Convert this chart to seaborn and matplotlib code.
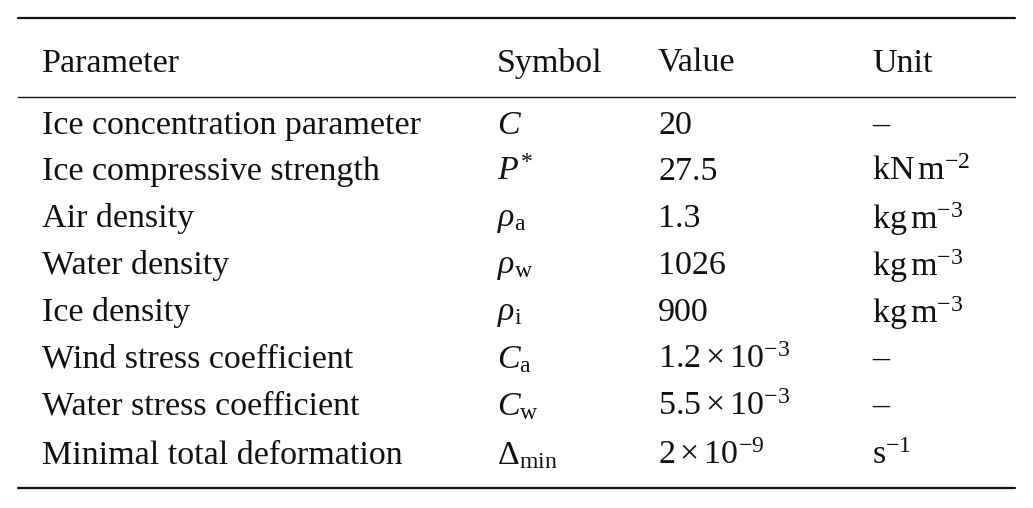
import matplotlib
matplotlib.use("Agg")
import matplotlib.pyplot as plt
import seaborn as sns

sns.set_theme(style="white")
plt.rcParams['font.family'] = ['Liberation Serif', 'DejaVu Serif']
plt.rcParams['mathtext.fontset'] = 'custom'
plt.rcParams['mathtext.rm'] = 'Liberation Serif'
plt.rcParams['mathtext.it'] = 'Liberation Serif:italic'
plt.rcParams['mathtext.bf'] = 'Liberation Serif:bold'
plt.rcParams['mathtext.fallback'] = 'stix'

headers = ["Parameter", "Symbol", "Value", "Unit"]
parameters = ["Ice concentration parameter", "Ice compressive strength", "Air density",
              "Water density", "Ice density", "Wind stress coefficient",
              "Water stress coefficient", "Minimal total deformation"]
symbols = [r"$C$", r"$P^{*}$", r"$\rho_{\mathrm{a}}$", r"$\rho_{\mathrm{w}}$", r"$\rho_{\mathrm{i}}$",
           r"$C_{\mathrm{a}}$", r"$C_{\mathrm{w}}$", r"$\Delta_{\mathrm{min}}$"]
values = ["20", "27.5", "1.3", "1026", "900", r"$1.2\times10^{-3}$", r"$5.5\times10^{-3}$", r"$2\times10^{-9}$"]
units = ["–", r"$\mathrm{kN\,m^{-2}}$", r"$\mathrm{kg\,m^{-3}}$", r"$\mathrm{kg\,m^{-3}}$",
         r"$\mathrm{kg\,m^{-3}}$", "–", "–", r"$\mathrm{s^{-1}}$"]

W, H = 1033, 508
fig = plt.figure(figsize=(W/100, H/100), dpi=100)
ax = fig.add_axes([0, 0, 1, 1])
ax.set_xlim(0, W); ax.set_ylim(H, 0); ax.axis('off')

colx = [42, 497, 658, 872]
fs = 24.5
for x, h in zip(colx, headers):
    ax.text(x, 60, h, fontsize=fs, va='center_baseline', ha='left', color='#111')
rowy = [122, 168, 215, 262, 309, 356, 403, 452]
for i, y in enumerate(rowy):
    for x, t in zip(colx, [parameters[i], symbols[i], values[i], units[i]]):
        ax.text(x, y, t, fontsize=fs, va='center_baseline', ha='left', color='#111')

for y, lw in [(18, 1.6), (97, 1.0), (488, 1.6)]:
    ax.plot([18, 1015], [y, y], color='#111', lw=lw)

fig.savefig("out.png", dpi=100)
